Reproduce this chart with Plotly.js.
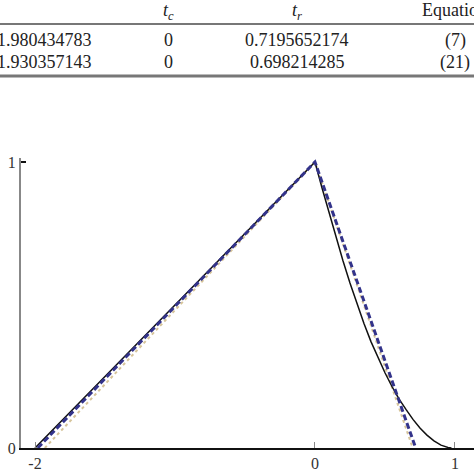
<!DOCTYPE html>
<html>
<head>
<meta charset="utf-8">
<script src="https://cdn.plot.ly/plotly-3.0.1.min.js"></script>
<style>html,body{margin:0;padding:0;background:#fff;}#chart{width:474px;height:474px;}</style>
</head>
<body>
<div id="chart"></div>
<script>
// Table fragment values
const tableHeaders = ["<i>t</i><sub><i>c</i></sub>", "<i>t</i><sub><i>r</i></sub>", "Equation"];
const colFirst = ["1.980434783", "1.930357143"];
const colTc = ["0", "0"];
const colTr = ["0.7195652174", "0.698214285"];
const colEq = ["(7)", "(21)"];

// Curve data
const xExact = [-2, 0, 0.05, 0.1, 0.15, 0.2, 0.25, 0.3, 0.35, 0.4, 0.45, 0.5, 0.55, 0.6, 0.65, 0.7, 0.75, 0.8, 0.85, 0.9, 0.95, 0.975];
const yExact = [0, 1, 0.91, 0.822, 0.737, 0.655, 0.577, 0.503, 0.435, 0.372, 0.315, 0.263, 0.215, 0.172, 0.135, 0.1, 0.07, 0.045, 0.025, 0.01, 0.002, 0];
const xEq7 = [-1.980434783, 0, 0.7195652174];
const yEq7 = [0, 1, 0];
const xEq21 = [-1.930357143, 0, 0.698214285];
const yEq21 = [0, 1, 0];

const xTickVals = [-2, 0, 1];
const xTickText = ["-2", "0", "1"];
const yTickVals = [0, 1];
const yTickText = ["0", "1"];

const serif = "Liberation Serif";

const traces = [
  {x: xEq21, y: yEq21, mode: "lines", line: {color: "#d6c49a", width: 2, dash: "dot"}, hoverinfo: "skip"},
  {x: xExact, y: yExact, mode: "lines", line: {color: "#111111", width: 1.5}, hoverinfo: "skip"},
  {x: xEq7, y: yEq7, mode: "lines", line: {color: "#33338a", width: 3, dash: "6px,3px"}, hoverinfo: "skip"}
];

// plot area: left 21, right 474, top 158, bottom 448
function px(xp){ return (xp - 21) / 453; }
function py(yp){ return (448 - yp) / 290; }

const ann = [];
const rowY = [40, 62];
const f = {family: serif, size: 18, color: "#222"};
ann.push({xref:"paper", yref:"paper", x: px(168), y: py(11), text: tableHeaders[0], showarrow:false, xanchor:"center", yanchor:"middle", font:f});
ann.push({xref:"paper", yref:"paper", x: px(297), y: py(11), text: tableHeaders[1], showarrow:false, xanchor:"center", yanchor:"middle", font:f});
ann.push({xref:"paper", yref:"paper", x: px(420), y: py(10), text: tableHeaders[2], showarrow:false, xanchor:"left", yanchor:"middle", font:f});
for (let i = 0; i < 2; i++) {
  ann.push({xref:"paper", yref:"paper", x: px(94), y: py(rowY[i]), text: colFirst[i], showarrow:false, xanchor:"right", yanchor:"middle", font:f});
  ann.push({xref:"paper", yref:"paper", x: px(168), y: py(rowY[i]), text: colTc[i], showarrow:false, xanchor:"center", yanchor:"middle", font:f});
  ann.push({xref:"paper", yref:"paper", x: px(297), y: py(rowY[i]), text: colTr[i], showarrow:false, xanchor:"center", yanchor:"middle", font:f});
  ann.push({xref:"paper", yref:"paper", x: px(455), y: py(rowY[i]), text: colEq[i], showarrow:false, xanchor:"center", yanchor:"middle", font:f});
}

const shapes = [
  {type:"line", xref:"paper", yref:"paper", x0:px(0), x1:px(474), y0:py(24), y1:py(24), line:{color:"#777", width:2}},
  {type:"line", xref:"paper", yref:"paper", x0:px(0), x1:px(474), y0:py(76), y1:py(76), line:{color:"#777", width:3}}
];

const layout = {
  width: 474, height: 474,
  margin: {l: 21, r: 0, t: 158, b: 26},
  paper_bgcolor: "#fff", plot_bgcolor: "#fff",
  showlegend: false,
  font: {family: serif},
  xaxis: {
    range: [-2.1, 1.136], showgrid: false, zeroline: false,
    showline: true, linecolor: "#111", linewidth: 1.5,
    ticks: "inside", ticklen: 6, tickcolor: "#888", tickwidth: 1,
    tickvals: xTickVals, ticktext: xTickText,
    tickfont: {family: serif, size: 16, color: "#333"}
  },
  yaxis: {
    range: [0, 1.014], showgrid: false, zeroline: false,
    showline: true, linecolor: "#888", linewidth: 2,
    ticks: "inside", ticklen: 5, tickcolor: "#111", tickwidth: 1.5,
    tickvals: yTickVals, ticktext: yTickText,
    tickfont: {family: serif, size: 16, color: "#333"}
  },
  annotations: ann,
  shapes: shapes
};

Plotly.newPlot("chart", traces, layout, {staticPlot: true, displayModeBar: false});
</script>
</body>
</html>
